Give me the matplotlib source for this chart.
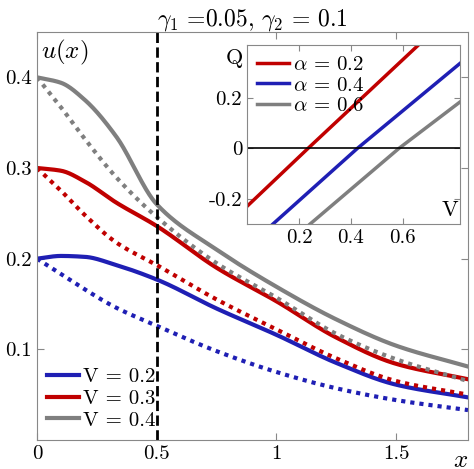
import matplotlib
matplotlib.use("Agg")
import matplotlib.pyplot as plt
import numpy as np

plt.rcParams['font.family'] = 'serif'
plt.rcParams['font.serif'] = ['cmr10', 'DejaVu Serif']
plt.rcParams['mathtext.fontset'] = 'cm'
plt.rcParams['axes.formatter.use_mathtext'] = True

x = [0, 0.1, 0.2, 0.33, 0.5, 0.75, 1.0, 1.25, 1.5, 1.8]
gray_solid = [0.4, 0.394, 0.375, 0.335, 0.26, 0.21, 0.169, 0.133, 0.104, 0.081]
gray_dot = [0.4, 0.367, 0.332, 0.29, 0.246, 0.195, 0.157, 0.117, 0.089, 0.065]
red_solid = [0.3, 0.297, 0.285, 0.262, 0.236, 0.19, 0.153, 0.113, 0.084, 0.067]
red_dot = [0.3, 0.275, 0.248, 0.218, 0.193, 0.155, 0.122, 0.09, 0.065, 0.05]
blue_solid = [0.2, 0.203, 0.202, 0.193, 0.177, 0.145, 0.116, 0.085, 0.061, 0.047]
blue_dot = [0.2, 0.183, 0.166, 0.146, 0.126, 0.098, 0.075, 0.057, 0.044, 0.033]

labels = ['V = 0.2', 'V = 0.3', 'V = 0.4']
blue, red, gray = '#1f1fb4', '#c00000', '#7f7f7f'

V_red = [0, 0.235, 0.66]; Q_red = [-0.23, 0, 0.41]
V_blue = [0.1, 0.425, 0.82]; Q_blue = [-0.3, 0, 0.337]
V_gray = [0.243, 0.585, 0.82]; Q_gray = [-0.3, 0, 0.184]
alpha_labels = [r'$\alpha$ = 0.2', r'$\alpha$ = 0.4', r'$\alpha$ = 0.6']

def pchip(xs, ys, n=400):
    xs = np.asarray(xs, float); ys = np.asarray(ys, float)
    h = np.diff(xs); d = np.diff(ys) / h
    m = np.zeros_like(ys)
    for k in range(1, len(xs) - 1):
        if d[k-1] * d[k] > 0:
            w1 = 2*h[k] + h[k-1]; w2 = h[k] + 2*h[k-1]
            m[k] = (w1 + w2) / (w1/d[k-1] + w2/d[k])
    m[0] = d[0]; m[-1] = d[-1]
    xf = np.linspace(xs[0], xs[-1], n)
    idx = np.clip(np.searchsorted(xs, xf) - 1, 0, len(h) - 1)
    t = (xf - xs[idx]) / h[idx]
    h00 = 2*t**3 - 3*t**2 + 1; h10 = t**3 - 2*t**2 + t
    h01 = -2*t**3 + 3*t**2; h11 = t**3 - t**2
    yf = h00*ys[idx] + h10*h[idx]*m[idx] + h01*ys[idx+1] + h11*h[idx]*m[idx+1]
    return xf, yf

fig = plt.figure(figsize=(4.74, 4.69), dpi=100)
ax = fig.add_axes([37/474, 1-440/469, 431/474, 408/469])
lw = 3
for ys, col, lab in [(blue_solid, blue, labels[0]), (red_solid, red, labels[1]), (gray_solid, gray, labels[2])]:
    xf, yf = pchip(x, ys)
    ax.plot(xf, yf, color=col, lw=lw, label=lab)
for ys, col in [(blue_dot, blue), (red_dot, red), (gray_dot, gray)]:
    xf, yf = pchip(x, ys)
    ax.plot(xf, yf, color=col, lw=lw, ls=(0, (1, 1.2)))
ax.axvline(0.5, color='k', ls='--', lw=2)
ax.set_xlim(0, 1.8)
ax.set_ylim(0, 0.45)
ax.set_xticks([0, 0.5, 1, 1.5])
ax.set_xticklabels(['0', '0.5', '1', '1.5'])
ax.set_yticks([0.1, 0.2, 0.3, 0.4])
ax.set_yticklabels(['0.1', '0.2', '0.3', '0.4'])
ax.tick_params(direction='in', top=True, right=True, labelsize=15, length=5, color='#888888')
for s in ax.spines.values():
    s.set_color('#888888')
ax.set_title(r'$\gamma_1$ =0.05, $\gamma_2$ = 0.1', fontsize=17, pad=5)
ax.text(0.01, 0.985, r'$u(x)$', transform=ax.transAxes, fontsize=18, va='top')
ax.text(1.0, -0.025, r'$x$', transform=ax.transAxes, fontsize=18, ha='right', va='top')
ax.legend(loc='lower left', frameon=False, fontsize=15, handlelength=1.5, handletextpad=0.2,
          labelspacing=0.15, borderaxespad=0.1)

ins = fig.add_axes([247/474, 1-224/469, 213/474, 179/469])
ins.plot(V_red, Q_red, color=red, lw=2.5, label=alpha_labels[0])
ins.plot(V_blue, Q_blue, color=blue, lw=2.5, label=alpha_labels[1])
ins.plot(V_gray, Q_gray, color=gray, lw=2.5, label=alpha_labels[2])
ins.axhline(0, color='k', lw=1.2)
ins.set_xlim(0, 0.82)
ins.set_ylim(-0.3, 0.41)
ins.set_xticks([0.2, 0.4, 0.6])
ins.set_xticklabels(['0.2', '0.4', '0.6'])
ins.set_yticks([-0.2, 0, 0.2])
ins.set_yticklabels(['-0.2', '0', '0.2'])
ins.tick_params(direction='in', top=True, right=True, labelsize=15, length=4, color='#888888')
for s in ins.spines.values():
    s.set_color('#888888')
ins.text(-0.02, 0.98, 'Q', transform=ins.transAxes, fontsize=16, ha='right', va='top')
ins.text(0.99, 0.02, 'V', transform=ins.transAxes, fontsize=16, ha='right', va='bottom')
ins.legend(loc='upper left', frameon=False, fontsize=15, handlelength=1.5, handletextpad=0.2,
           labelspacing=0.1, borderaxespad=0.1)

fig.savefig('out.png', dpi=100)
